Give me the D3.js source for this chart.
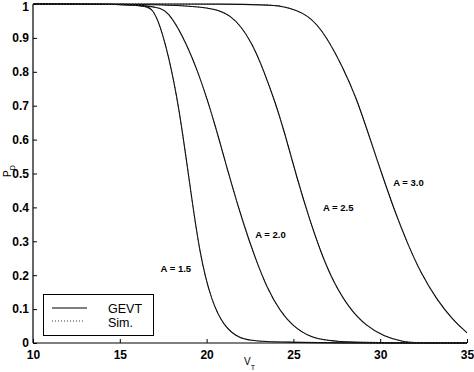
<!DOCTYPE html>
<html>
<head>
<meta charset="utf-8">
<script src="https://cdn.jsdelivr.net/npm/d3@7"></script>
<style>
  html, body { margin: 0; padding: 0; background: #fff; }
  svg { display: block; }
  text { font-family: "Liberation Sans", Arial, Helvetica, sans-serif; fill: #000; }
</style>
</head>
<body>
<svg id="chart" width="474" height="372"></svg>
<script>
// ---- data ----
const xTicks = [10, 15, 20, 25, 30, 35];
const yTicks = [0, 0.1, 0.2, 0.3, 0.4, 0.5, 0.6, 0.7, 0.8, 0.9, 1];
const yTickLabels = ["0", "0.1", "0.2", "0.3", "0.4", "0.5", "0.6", "0.7", "0.8", "0.9", "1"];

const curveNames = ["A = 1.5", "A = 2.0", "A = 2.5", "A = 3.0"];

const vT_A15 = [10, 16.4, 16.9, 17.3, 17.8, 18.4, 19.0, 19.6, 20.3, 21.0, 21.8, 22.9, 35];
const pD_A15 = [1, 1, 0.985, 0.94, 0.85, 0.7, 0.48, 0.26, 0.12, 0.05, 0.015, 0, 0];

const vT_A20 = [10, 17.1, 17.8, 18.55, 19.41, 20.05, 20.62, 21.37, 22.1, 22.8, 23.5, 24.2, 24.95, 26.0, 27.5, 35];
const pD_A20 = [1, 1, 0.976, 0.914, 0.814, 0.717, 0.62, 0.48, 0.355, 0.25, 0.16, 0.097, 0.05, 0.015, 0, 0];

const vT_A25 = [10, 19.6, 21.49, 22.64, 23.34, 23.91, 24.5, 25.24, 25.94, 26.6, 27.3, 28.24, 29.2, 30.2, 31.3, 32.0, 35];
const pD_A25 = [1, 1, 0.973, 0.885, 0.796, 0.717, 0.62, 0.48, 0.363, 0.265, 0.18, 0.1, 0.05, 0.02, 0.004, 0, 0];

const vT_A30 = [10, 22.47, 24.38, 25.94, 26.92, 27.84, 28.65, 29.3, 30.15, 30.9, 31.6, 32.35, 33.27, 34.19, 35];
const pD_A30 = [1, 1, 0.997, 0.968, 0.903, 0.814, 0.72, 0.62, 0.49, 0.38, 0.29, 0.205, 0.127, 0.068, 0.03];

// simulation results coincide with the GEVT curves in the picture
const simV = [vT_A15, vT_A20, vT_A25, vT_A30];
const simP = [pD_A15, pD_A20, pD_A25, pD_A30];
const gevtV = [vT_A15, vT_A20, vT_A25, vT_A30];
const gevtP = [pD_A15, pD_A20, pD_A25, pD_A30];

// label anchors in data coordinates (VT, PD)
const labelV = [17.35, 22.8, 26.7, 30.75];
const labelP = [0.21, 0.31, 0.39, 0.463];

const legendNames = ["GEVT", "Sim."];

// ---- drawing ----
const svg = d3.select("#chart");
const L = 33, R = 467, T = 4, B = 343;
const x = d3.scaleLinear().domain([10, 35]).range([L, R]);
const y = d3.scaleLinear().domain([0, 1]).range([B, T]);

// axes
const xAxis = d3.axisBottom(x).tickValues(xTicks).tickSize(-4).tickPadding(7).tickFormat(d3.format("d"));
const gx = svg.append("g").attr("transform", `translate(0,${B})`).call(xAxis);
gx.select(".domain").attr("stroke", "#000").attr("stroke-width", 1.2).attr("d", `M${L},0H${R}`);
gx.selectAll(".tick line").attr("stroke", "#000");
gx.selectAll(".tick text").attr("font-size", 12).attr("font-weight", "bold")
  .attr("font-family", "Liberation Sans, Arial, sans-serif").attr("fill", "#111");

const yAxis = d3.axisLeft(y).tickValues(yTicks).tickSize(-4).tickPadding(4)
  .tickFormat((d, i) => yTickLabels[i]);
const gy = svg.append("g").attr("transform", `translate(${L},0)`).call(yAxis);
gy.select(".domain").attr("stroke", "#000").attr("stroke-width", 1.2).attr("d", `M0,${B}V${T}`);
gy.selectAll(".tick line").attr("stroke", "#000");
gy.selectAll(".tick text").attr("font-size", 12).attr("font-weight", "bold")
  .attr("font-family", "Liberation Sans, Arial, sans-serif").attr("fill", "#111")
  .attr("dy", d => d === 1 ? "0.55em" : "0.32em");

// curves
const line = d3.line().x(d => x(d[0])).y(d => y(d[1])).curve(d3.curveBasis);
const zip = (a, b) => a.map((v, i) => [v, b[i]]);

gevtV.forEach((vs, k) => {
  svg.append("path").datum(zip(vs, gevtP[k]))
    .attr("d", line).attr("fill", "none").attr("stroke", "#000").attr("stroke-width", 1.1);
});
simV.forEach((vs, k) => {
  svg.append("path").datum(zip(vs, simP[k]))
    .attr("d", line).attr("fill", "none").attr("stroke", "#333").attr("stroke-width", 1)
    .attr("stroke-dasharray", "1,2");
});

// curve labels
curveNames.forEach((name, k) => {
  svg.append("text").attr("x", x(labelV[k])).attr("y", y(labelP[k]))
    .attr("font-size", 9.5).attr("font-weight", "bold").text(name);
});

// axis titles
const xl = svg.append("text").attr("x", 244).attr("y", 365).attr("font-size", 10);
xl.append("tspan").text("V");
xl.append("tspan").attr("font-size", 7).attr("dy", 5).text("T");

const yl = svg.append("text").attr("transform", "translate(11,177) rotate(-90)").attr("font-size", 10);
yl.append("tspan").text("P");
yl.append("tspan").attr("font-size", 7).attr("dy", 4).text("D");

// legend
const lg = svg.append("g");
lg.append("rect").attr("x", 43.5).attr("y", 294.5).attr("width", 110).attr("height", 41)
  .attr("fill", "#fff").attr("stroke", "#000").attr("stroke-width", 1);
lg.append("line").attr("x1", 52).attr("x2", 87).attr("y1", 308).attr("y2", 308)
  .attr("stroke", "#000").attr("stroke-width", 1.1);
lg.append("line").attr("x1", 52).attr("x2", 84).attr("y1", 321).attr("y2", 321)
  .attr("stroke", "#333").attr("stroke-width", 1).attr("stroke-dasharray", "1,2");
legendNames.forEach((n, i) => {
  lg.append("text").attr("x", 108).attr("y", 313 + i * 14).attr("font-size", 12.5).text(n);
});
</script>
</body>
</html>
